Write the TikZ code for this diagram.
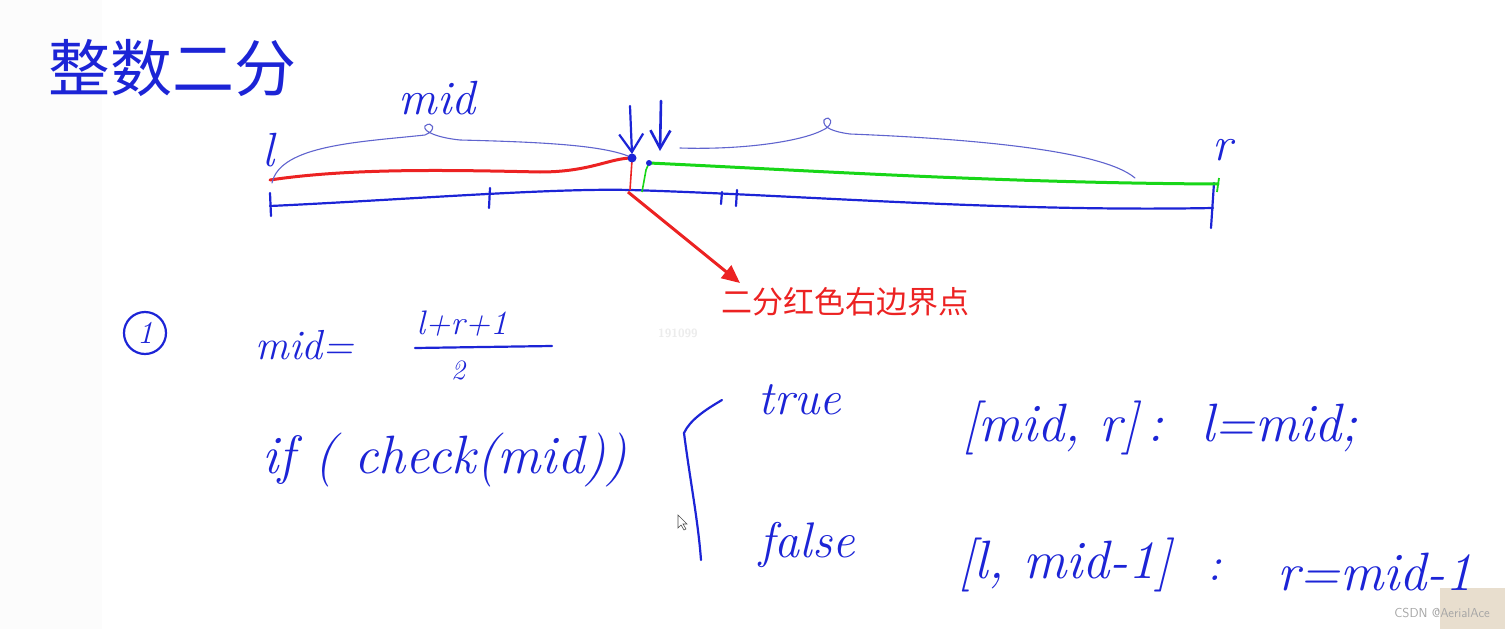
\documentclass[tikz,border=0pt]{standalone}
\usepackage{fontspec}
\newfontfamily\cjk{Noto Sans CJK SC}
\usetikzlibrary{arrows.meta, positioning}
\definecolor{penblue}{RGB}{28,36,214}
\definecolor{penred}{RGB}{236,34,34}
\definecolor{pengreen}{RGB}{24,214,24}
\definecolor{bracecol}{RGB}{96,100,206}
\definecolor{beige}{RGB}{232,222,206}

\tikzset{
  pen/.style={penblue, line width=2.2pt, line cap=round, line join=round},
  thinpen/.style={bracecol, line width=1.1pt, line cap=round},
  hand/.style={penblue, inner sep=0pt, font=\itshape\fontsize{48}{54}\selectfont},
  bighand/.style={hand, font=\itshape\fontsize{54}{60}\selectfont},
  smallhand/.style={hand, font=\itshape\fontsize{34}{38}\selectfont},
  redlabel/.style={penred, inner sep=0pt, font=\cjk\fontsize{31}{36}\selectfont},
  wmark/.style={gray!70, inner sep=0pt, font=\sffamily\fontsize{13}{15}\selectfont}
}

\begin{document}
\begin{tikzpicture}[x=1pt,y=-1pt]
  \useasboundingbox (0,0) rectangle (1505,629);
  \fill[gray!2] (0,0) rectangle (102,629);
  \fill[beige] (1440,588) rectangle (1505,629);

  % title
  \node[penblue, inner sep=0pt, font=\cjk\fontsize{62}{68}\selectfont] (title) at (172,68) {整数二分};

  % number line
  \coordinate (L) at (270,206);
  \coordinate (R) at (1213,208);
  \draw[pen] (L) .. controls (400,200) and (550,188) .. (630,190)
    .. controls (800,195) and (1000,212) .. (R);
  \draw[pen] (270,193) -- (271,216);
  \draw[pen] (1214,183) -- (1211,228);
  \draw[pen] (490,188) -- (489,208);
  \draw[pen] (722,192) -- (721,204);
  \draw[pen] (737,190) -- (736,206);

  % red part
  \coordinate (redend) at (632,158);
  \draw[penred, line width=3pt, line cap=round] (270,180) .. controls (350,168) and (450,170) .. (540,172)
    .. controls (590,172) and (610,158) .. (redend);
  \draw[penred, line width=1.6pt] (632,160) -- (630,190);

  % green part
  \coordinate (greenend) at (649,163);
  \draw[pengreen, line width=1.6pt] (642,192) -- (646,170) -- (greenend);
  \draw[pengreen, line width=3pt, line cap=round] (greenend) .. controls (800,170) and (1000,183) .. (1218,184);
  \draw[pengreen, line width=1.8pt] (1219,178) -- (1217,192);

  \fill[penblue] (redend) circle (4.5pt);
  \fill[penblue] (greenend) circle (3pt);

  % arrows to the two points
  \coordinate (a1) at (630,106);
  \coordinate (a2) at (661,101);
  \draw[pen, -{Straight Barb[length=18pt,width=24pt]}] (a1) -- ([yshift=4pt]redend);
  \draw[pen, line width=2.6pt, -{Straight Barb[length=18pt,width=20pt]}] (a2) -- (660,151);

  % braces
  \draw[thinpen] (272,183) .. controls (280,145) and (360,142) .. (425,135)
    .. controls (438,130) and (432,120) .. (425,126)
    .. controls (422,132) and (440,138) .. (460,140)
    .. controls (540,142) and (600,145) .. (628,156);
  \draw[thinpen] (680,148) .. controls (740,150) and (800,142) .. (823,130)
    .. controls (836,124) and (830,114) .. (824,120)
    .. controls (822,128) and (835,132) .. (850,134)
    .. controls (950,138) and (1100,148) .. (1135,178);

  \node[hand] (lbl-mid) at (437,98) {mid};
  \node[hand] (lbl-l) at (268,150) {l};
  \node[hand] (lbl-r) at (1222,150) {r};

  % red note
  \coordinate (bnd) at (628,192);
  \node[redlabel] (note) at (845,302) {二分红色右边界点};
  \coordinate (tip) at (740,283);
  \draw[penred, line width=3pt, -{Triangle[length=18pt,width=16pt]}] (bnd) -- (tip);

  \node[gray!15, inner sep=0pt, font=\sffamily\bfseries\fontsize{12}{14}\selectfont] (wm) at (678,333) {191099};

  % formula
  \node[pen, draw, circle, inner sep=0pt, minimum size=42pt, font=\itshape\fontsize{32}{36}\selectfont] (one) at (145,333) {1};
  \node[hand, font=\itshape\fontsize{42}{48}\selectfont] (mideq) at (305,345) {mid=};
  \node[smallhand] (num) at (462,324) {l+r+1};
  \draw[pen] (415,348) -- (552,346);
  \node[smallhand, font=\itshape\fontsize{28}{32}\selectfont] (den) at (458,370) {2};

  \node[bighand] (cond) at (445,460) {if ( check(mid))};
  \draw[pen] (722,400) .. controls (705,410) and (690,420) .. (684,433)
    .. controls (690,480) and (698,520) .. (701,560);

  \node[hand] (t) at (800,400) {true};
  \node[bighand] (tr) at (1160,428) {[mid, r]\,:\ \ l=mid;};
  \node[hand, font=\itshape\fontsize{50}{56}\selectfont] (f) at (807,545) {false};
  \node[bighand] (fr) at (1065,565) {[l, mid-1]};
  \node[hand] (colon) at (1215,570) {:};
  \node[bighand] (fa) at (1375,572) {r=mid-1};

  % cursor
  \draw[black!70, line width=0.6pt, fill=white] (678,515) -- (678,528) -- (681,525) -- (684,530)
    -- (686,529) -- (683,524) -- (687,524) -- cycle;

  \node[wmark, anchor=east] (csdn) at (1490,613) {CSDN @AerialAce};
\end{tikzpicture}
\end{document}
